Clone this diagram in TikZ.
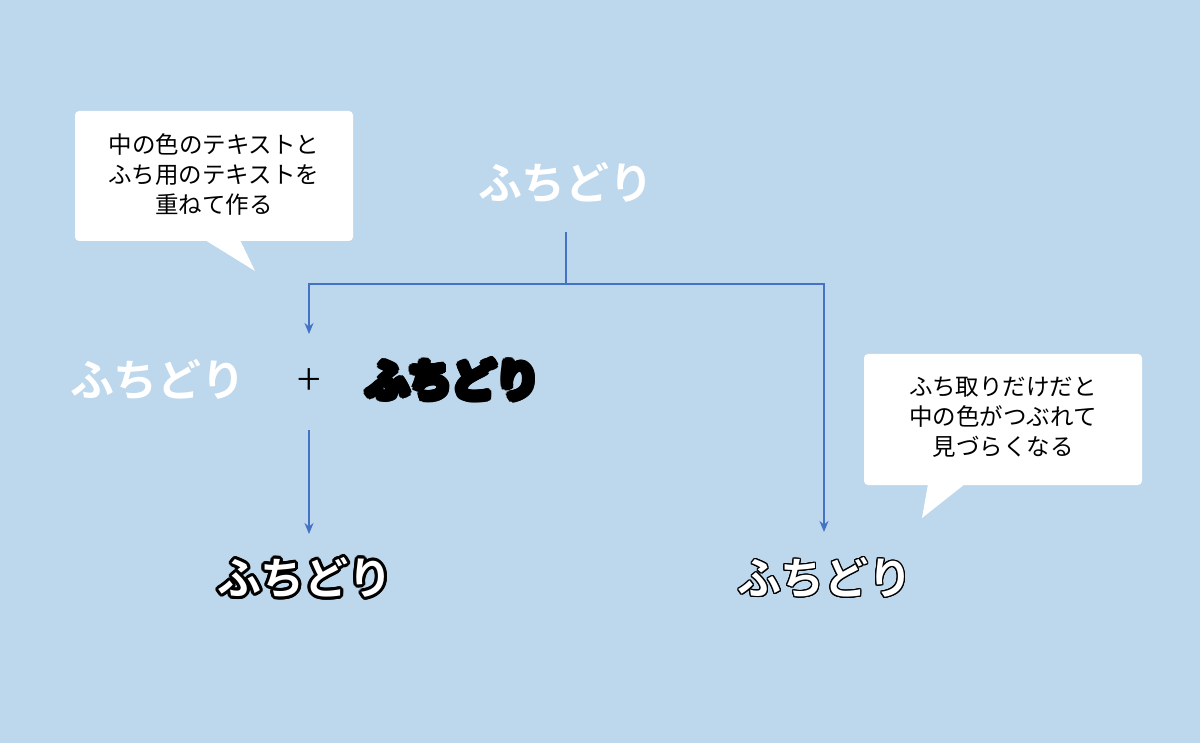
\documentclass[tikz,border=0pt]{standalone}
\usepackage{fontspec}
\newfontfamily\jp{Noto Sans CJK JP}
\newfontfamily\jpb{Noto Sans CJK JP Bold}
\newfontfamily\jpl{Noto Sans CJK JP Light}
\definecolor{bg}{HTML}{BDD7EC}
\definecolor{ln}{HTML}{4472C4}
\usetikzlibrary{arrows.meta}
\tikzset{
  big/.style={font=\jpb\fontsize{44}{44}\selectfont, inner sep=0pt},
  note/.style={font=\jp\fontsize{23.5}{30}\selectfont, align=center, inner sep=0pt},
  conn/.style={ln, line width=2.5pt, -{Stealth[length=11pt,width=9pt]}},
  bubble/.style={fill=white, draw=none, rounded corners=4pt}
}
\newcommand{\stroked}[5]{% name, pos, outline colour, radius, fill colour
  \foreach \a in {0,22.5,...,337.5}{\node[big,text=#3] at ([shift={(\a:#4)}]#2) {ふちどり};}
  \node[big,text=#5] (#1) at (#2) {ふちどり};}
\begin{document}
\begin{tikzpicture}[x=1pt,y=-1pt]
\fill[bg] (0,0) rectangle (1200,743);
\useasboundingbox (0,0) rectangle (1200,743);
% callouts
\fill[bubble] (75,111) rectangle (353,241);
\fill[white] (205,240) -- (255,271) -- (240,240) -- cycle;
\node[note] (n1) at (214,175) {中の色のテキストと\\ふち用のテキストを\\重ねて作る};
\fill[bubble] (864,354) rectangle (1142,485);
\fill[white] (928,484) -- (922,518) -- (965,484) -- cycle;
\node[note] (n2) at (1003,417) {ふち取りだけだと\\中の色がつぶれて\\見づらくなる};
% texts
\node[big,text=white] (top) at (566,183) {ふちどり};
\node[big,text=white] (l) at (158,380) {ふちどり};
\node[font=\jpl\fontsize{44}{44}\selectfont, inner sep=0pt] (plus) at (309,382) {+};
\stroked{m}{453,380}{black}{3.5pt}{black}
\stroked{bl}{305,578}{black}{3pt}{white}
\stroked{br}{825,578}{black}{1.2pt}{white}
% connectors
\coordinate (s) at (566,232);
\coordinate (j) at (566,284);
\coordinate (jl) at (309,284);
\coordinate (jr) at (824,284);
\coordinate (al) at (309,334);
\coordinate (ar) at (824,532);
\coordinate (p1) at (309,430);
\coordinate (p2) at (309,534);
\draw[ln,line width=2.5pt] (s) -- (j);
\draw[conn] (jr) -- (jl) -- (al);
\draw[conn] (jl) -- (jr) -- (ar);
\draw[conn] (p1) -- (p2);
\end{tikzpicture}
\end{document}
